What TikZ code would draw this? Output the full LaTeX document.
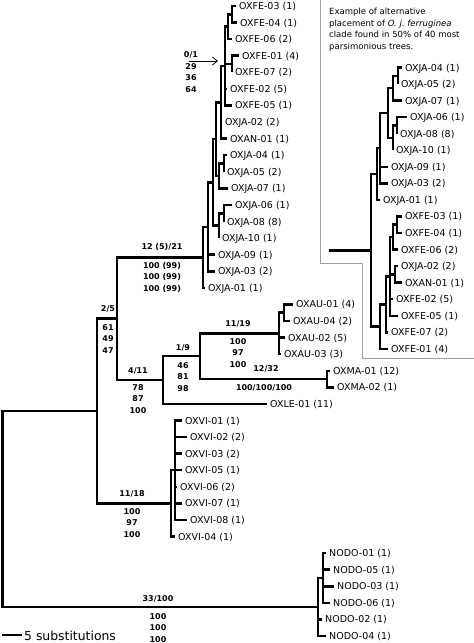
\documentclass[tikz,border=0pt]{standalone}
\usepackage{fontspec}
\setmainfont{DejaVu Sans}
\usetikzlibrary{arrows.meta}

\tikzset{
  br/.style={line width=2.5pt},
  tip/.style={anchor=west,inner xsep=3pt,inner ysep=0pt,text height=7pt,text depth=0pt,
    font=\fontsize{9.5}{11}\selectfont},
  sup/.style={inner sep=0pt,font=\bfseries\fontsize{8}{11.6}\selectfont},
  supstack/.style={sup,anchor=north,align=center},
}

\begin{document}
\begin{tikzpicture}[x=1pt,y=-1pt,line join=miter]
  \useasboundingbox (0,0) rectangle (474,643);
  % internal nodes, main tree
  \coordinate (root) at (2.5,509.0);
  \coordinate (nI) at (97,411.05);
  \coordinate (nA) at (117,318.7);
  \coordinate (nJ) at (203,257.3);
  \coordinate (nW) at (208,226.8);
  \coordinate (nV) at (213,182.4);
  \coordinate (nU) at (216,139.2);
  \coordinate (nFEJ) at (221,102.4);
  \coordinate (nF) at (225,66.1);
  \coordinate (nFE346) at (228,26.7);
  \coordinate (nFE34) at (232,14.3);
  \coordinate (nFE17) at (232,64.0);
  \coordinate (nJ457) at (219,175.9);
  \coordinate (nJ45) at (224,163.5);
  \coordinate (nJ6810) at (219,225.7);
  \coordinate (nJ68) at (224,213.25);
  \coordinate (nC) at (163,380.1);
  \coordinate (nB) at (200,356.2);
  \coordinate (nAU) at (279,333.4);
  \coordinate (nAU14) at (284,312.7);
  \coordinate (nMA) at (327,379.05);
  \coordinate (nVI) at (171,503.4);
  \coordinate (nVIin) at (175,470.24);
  \coordinate (nNO) at (318,607.0);
  \coordinate (nNOin) at (323,578.0);

  % tips, main tree
  \node[tip] (fe03) at (236,6.0) {OXFE-03 (1)};
  \node[tip] (fe04) at (237,22.58) {OXFE-04 (1)};
  \node[tip] (fe06) at (232,39.16) {OXFE-06 (2)};
  \node[tip] (fe01) at (239,55.74) {OXFE-01 (4)};
  \node[tip] (fe07) at (232,72.32) {OXFE-07 (2)};
  \node[tip] (fe02) at (227,88.9) {OXFE-02 (5)};
  \node[tip] (fe05) at (232,105.48) {OXFE-05 (1)};
  \node[tip] (ja02) at (222,122.06) {OXJA-02 (2)};
  \node[tip] (an01) at (227,138.64) {OXAN-01 (1)};
  \node[tip] (ja04) at (227,155.22) {OXJA-04 (1)};
  \node[tip] (ja05) at (224,171.8) {OXJA-05 (2)};
  \node[tip] (ja07) at (228,188.38) {OXJA-07 (1)};
  \node[tip] (ja06) at (232,204.96) {OXJA-06 (1)};
  \node[tip] (ja08) at (224,221.54) {OXJA-08 (8)};
  \node[tip] (ja10) at (219,238.12) {OXJA-10 (1)};
  \node[tip] (ja09) at (215,254.7) {OXJA-09 (1)};
  \node[tip] (ja03) at (215,271.28) {OXJA-03 (2)};
  \node[tip] (ja01) at (205,287.86) {OXJA-01 (1)};
  \node[tip] (au01) at (293,304.44) {OXAU-01 (4)};
  \node[tip] (au04) at (290,321.02) {OXAU-04 (2)};
  \node[tip] (au02) at (285,337.6) {OXAU-02 (5)};
  \node[tip] (au03) at (281,354.18) {OXAU-03 (3)};
  \node[tip] (ma01) at (330,370.76) {OXMA-01 (12)};
  \node[tip] (ma02) at (334,387.34) {OXMA-02 (1)};
  \node[tip] (le01) at (267,403.92) {OXLE-01 (11)};
  \node[tip] (vi01) at (182,420.5) {OXVI-01 (1)};
  \node[tip] (vi02) at (187,437.08) {OXVI-02 (2)};
  \node[tip] (vi03) at (182,453.66) {OXVI-03 (2)};
  \node[tip] (vi05) at (182,470.24) {OXVI-05 (1)};
  \node[tip] (vi06) at (177,486.82) {OXVI-06 (2)};
  \node[tip] (vi07) at (182,503.4) {OXVI-07 (1)};
  \node[tip] (vi08) at (187,519.98) {OXVI-08 (1)};
  \node[tip] (vi04) at (175,536.56) {OXVI-04 (1)};
  \node[tip] (no01) at (326,553.14) {NODO-01 (1)};
  \node[tip] (no05) at (330,569.72) {NODO-05 (1)};
  \node[tip] (no03) at (334,586.3) {NODO-03 (1)};
  \node[tip] (no06) at (330,602.88) {NODO-06 (1)};
  \node[tip] (no02) at (322,619.46) {NODO-02 (1)};
  \node[tip] (no04) at (326,636.04) {NODO-04 (1)};

  % branches, main tree
  \draw[br] (nFE34) |- (fe03.west) (nFE34) |- (fe04.west);
  \draw[br] (nFE346) |- (nFE34) (nFE346) |- (fe06.west);
  \draw[br] (nFE17) |- (fe01.west) (nFE17) |- (fe07.west);
  \draw[br] (nF) |- (nFE346) (nF) |- (nFE17) (nF) |- (fe02.west) (nF) |- (fe05.west);
  \draw[br] (nFEJ) |- (nF) (nFEJ) |- (ja02.west) (nFEJ) |- (an01.west);
  \draw[br] (nJ45) |- (ja04.west) (nJ45) |- (ja05.west);
  \draw[br] (nJ457) |- (nJ45) (nJ457) |- (ja07.west);
  \draw[br] (nJ68) |- (ja06.west) (nJ68) |- (ja08.west);
  \draw[br] (nJ6810) |- (nJ68) (nJ6810) |- (ja10.west);
  \draw[br] (nU) |- (nFEJ) (nU) |- (nJ457);
  \draw[br] (nV) |- (nU) (nV) |- (nJ6810);
  \draw[br] (nW) |- (nV) (nW) |- (ja09.west) (nW) |- (ja03.west);
  \draw[br] (nJ) |- (nW) (nJ) |- (ja01.west);
  \draw[br] (nAU14) |- (au01.west) (nAU14) |- (au04.west);
  \draw[br] (nAU) |- (nAU14) (nAU) |- (au02.west) (nAU) |- (au03.west);
  \draw[br] (nMA) |- (ma01.west) (nMA) |- (ma02.west);
  \draw[br] (nB) |- (nAU) (nB) |- (nMA);
  \draw[br] (nC) |- (nB) (nC) |- (le01.west);
  \draw[br] (nA) |- (nJ) (nA) |- (nC);
  \draw[br] (nVIin) |- (vi01.west) (nVIin) |- (vi02.west) (nVIin) |- (vi03.west)
    (nVIin) |- (vi05.west) (nVIin) |- (vi06.west) (nVIin) |- (vi07.west) (nVIin) |- (vi08.west);
  \draw[br] (nVI) |- (nVIin) (nVI) |- (vi04.west);
  \draw[br] (nI) |- (nA) (nI) |- (nVI);
  \draw[br] (nNOin) |- (no01.west) (nNOin) |- (no05.west) (nNOin) |- (no03.west) (nNOin) |- (no06.west);
  \draw[br] (nNO) |- (nNOin) (nNO) |- (no02.west) (nNO) |- (no04.west);
  \draw[br] (root) |- (nI) (root) |- (nNO);

  % support values
  \node[sup] (s01) at (191,55) {0/1};
  \node[supstack] (s01b) at (191,63) {29\\36\\64};
  \coordinate (arrS) at (189,61);
  \coordinate (arrE) at (218,61);
  \draw[line width=0.8pt,-{Straight Barb[length=5pt,width=8pt]}] (arrS) -- (arrE);
  \node[sup] (s12) at (162,247) {12 (5)/21};
  \node[supstack] (s12b) at (162,262) {100 (99)\\100 (99)\\100 (99)};
  \node[sup] (s25) at (108,309) {2/5};
  \node[supstack] (s25b) at (108,324) {61\\49\\47};
  \node[sup] (s411) at (138,371) {4/11};
  \node[supstack] (s411b) at (138,384) {78\\87\\100};
  \node[sup] (s19) at (183,348) {1/9};
  \node[supstack] (s19b) at (183,362) {46\\81\\98};
  \node[sup] (s1119) at (238,324) {11/19};
  \node[supstack] (s1119b) at (238,338) {100\\97\\100};
  \node[sup] (s1232) at (266,369) {12/32};
  \node[sup] (s1232b) at (264,388) {100/100/100};
  \node[sup] (s1118) at (132,494) {11/18};
  \node[supstack] (s1118b) at (132,508) {100\\97\\100};
  \node[sup] (s33) at (158,599) {33/100};
  \node[supstack] (s33b) at (158,613) {100\\100\\100};

  % scale bar
  \coordinate (sb0) at (2,635);
  \coordinate (sb1) at (22,635);
  \draw[line width=1.8pt] (sb0) -- (sb1);
  \node[anchor=west,inner sep=0pt,font=\fontsize{12.4}{14}\selectfont] (sbl) at (24,635.5) {5 substitutions};

  % inset
  \draw[gray!75,line width=0.9pt] (320,0) -- (320,263) -- (362,263) -- (362,358) -- (474,358);
  \node[anchor=north west,align=left,inner sep=0pt,font=\fontsize{8.5}{11.5}\selectfont] (note) at (329,8)
    {Example of alternative\\placement of \textit{O.\ j.\ ferruginea}\\clade found in 50\% of 40 most\\parsimonious trees.};
  \coordinate (iS) at (329,250.3);
  \coordinate (iR) at (371,250.3);
  \coordinate (iJ) at (377,174.05);
  \coordinate (iJW) at (380,148.2);
  \coordinate (iJU) at (388,113.0);
  \coordinate (iJ457) at (393,88.2);
  \coordinate (iJ45) at (398,75.8);
  \coordinate (iJ6810) at (393,137.8);
  \coordinate (iJ68) at (397,125.4);
  \coordinate (iFR) at (380,326.6);
  \coordinate (iFa) at (386,304.35);
  \coordinate (iFb) at (390,276.4);
  \coordinate (iF346) at (393,237.1);
  \coordinate (iF34) at (397,224.7);
  \coordinate (iF2A) at (395,274.4);
  \node[tip] (ija04) at (402,67.5) {OXJA-04 (1)};
  \node[tip] (ija05) at (398,84.05) {OXJA-05 (2)};
  \node[tip] (ija07) at (402,100.6) {OXJA-07 (1)};
  \node[tip] (ija06) at (407,117.15) {OXJA-06 (1)};
  \node[tip] (ija08) at (397,133.7) {OXJA-08 (8)};
  \node[tip] (ija10) at (393,150.25) {OXJA-10 (1)};
  \node[tip] (ija09) at (388,166.8) {OXJA-09 (1)};
  \node[tip] (ija03) at (388,183.35) {OXJA-03 (2)};
  \node[tip] (ija01) at (380,199.9) {OXJA-01 (1)};
  \node[tip] (ife03) at (402,216.45) {OXFE-03 (1)};
  \node[tip] (ife04) at (402,233.0) {OXFE-04 (1)};
  \node[tip] (ife06) at (398,249.55) {OXFE-06 (2)};
  \node[tip] (ija02) at (398,266.1) {OXJA-02 (2)};
  \node[tip] (ian01) at (402,282.65) {OXAN-01 (1)};
  \node[tip] (ife02) at (393,299.2) {OXFE-02 (5)};
  \node[tip] (ife05) at (398,315.75) {OXFE-05 (1)};
  \node[tip] (ife07) at (388,332.3) {OXFE-07 (2)};
  \node[tip] (ife01) at (388,348.85) {OXFE-01 (4)};
  \draw[br] (iS) -- (iR);
  \draw[br] (iR) |- (iJ) (iR) |- (iFR);
  \draw[br] (iJ) |- (iJW) (iJ) |- (ija01.west);
  \draw[br] (iJW) |- (iJU) (iJW) |- (ija09.west) (iJW) |- (ija03.west);
  \draw[br] (iJU) |- (iJ457) (iJU) |- (iJ6810);
  \draw[br] (iJ457) |- (iJ45) (iJ457) |- (ija07.west);
  \draw[br] (iJ45) |- (ija04.west) (iJ45) |- (ija05.west);
  \draw[br] (iJ6810) |- (iJ68) (iJ6810) |- (ija10.west);
  \draw[br] (iJ68) |- (ija06.west) (iJ68) |- (ija08.west);
  \draw[br] (iFR) |- (iFa) (iFR) |- (ife01.west);
  \draw[br] (iFa) |- (iFb) (iFa) |- (ife07.west);
  \draw[br] (iFb) |- (iF346) (iFb) |- (iF2A) (iFb) |- (ife02.west) (iFb) |- (ife05.west);
  \draw[br] (iF346) |- (iF34) (iF346) |- (ife06.west);
  \draw[br] (iF34) |- (ife03.west) (iF34) |- (ife04.west);
  \draw[br] (iF2A) |- (ija02.west) (iF2A) |- (ian01.west);
\end{tikzpicture}
\end{document}
